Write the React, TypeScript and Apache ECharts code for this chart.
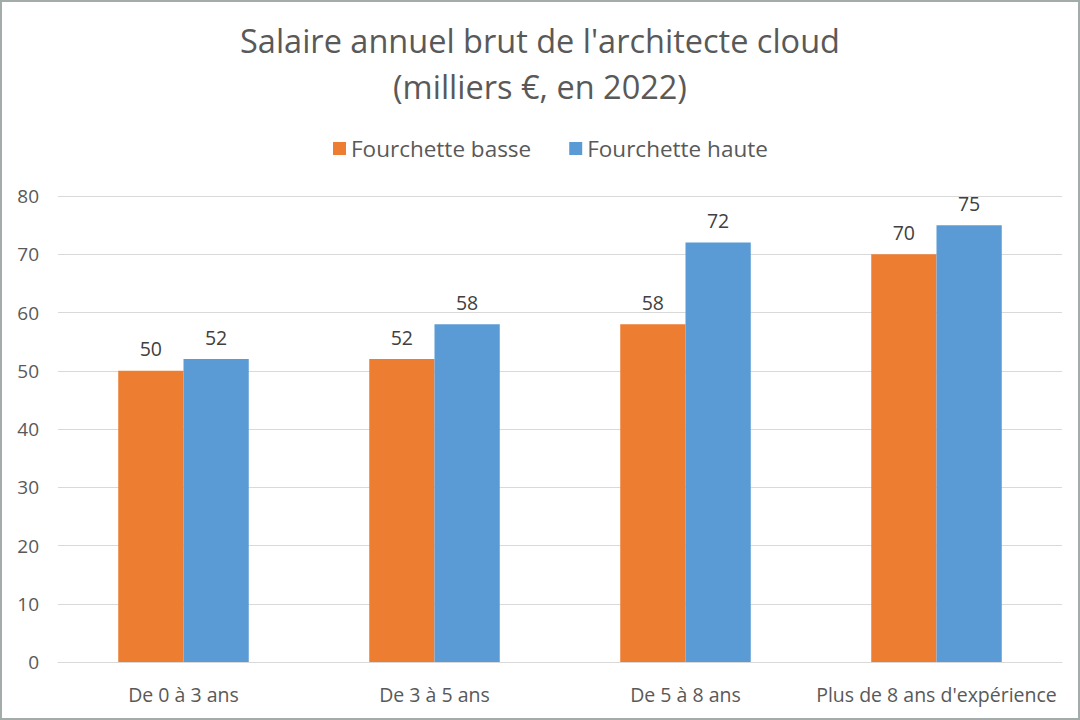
import React, { useEffect, useRef } from 'react';
import * as echarts from 'echarts';

const categories = ['De 0 à 3 ans', 'De 3 à 5 ans', 'De 5 à 8 ans', "Plus de 8 ans d'expérience"];
const basse = [50, 52, 58, 70];
const haute = [52, 58, 72, 75];

const FONT = '"Open Sans", "Noto Sans", sans-serif';

const App: React.FC = () => {
  const chartRef = useRef<HTMLDivElement>(null);

  useEffect(() => {
    if (!chartRef.current) return;
    document.body.style.margin = '0';
    const chart = echarts.init(chartRef.current, null, { renderer: 'svg' });
    const label = {
      show: true,
      position: 'top' as const,
      distance: 12,
      color: '#404040',
      fontSize: 19.5,
      fontFamily: FONT,
    };
    chart.setOption({
      animation: false,
      textStyle: { fontFamily: FONT },
      title: {
        text: "Salaire annuel brut de l'architecte cloud\n(milliers €, en 2022)",
        left: 'center',
        top: 10,
        padding: [5, 0, 5, 9],
        textStyle: { color: '#595959', fontSize: 32.5, fontWeight: 'normal', lineHeight: 46, fontFamily: FONT },
      },
      legend: {
        top: 130,
        left: 326,
        itemWidth: 13,
        itemHeight: 13,
        itemGap: 38,
        icon: 'rect',
        textStyle: { color: '#595959', fontSize: 22.5, fontFamily: FONT },
      },
      grid: { left: 56, right: 16, top: 194, bottom: 56 },
      xAxis: {
        type: 'category',
        data: categories,
        axisLine: { lineStyle: { color: '#d9d9d9' } },
        axisTick: { show: false },
        axisLabel: { color: '#595959', fontSize: 19.5, margin: 22, interval: 0, fontFamily: FONT },
      },
      yAxis: {
        type: 'value',
        min: 0,
        max: 80,
        interval: 10,
        axisLine: { show: false },
        axisTick: { show: false },
        splitLine: { lineStyle: { color: '#d9d9d9' } },
        axisLabel: { color: '#595959', fontSize: 19, margin: 19, fontFamily: FONT },
      },
      series: [
        {
          name: 'Fourchette basse',
          type: 'bar',
          data: basse,
          barGap: '0%',
          barCategoryGap: '48%',
          itemStyle: { color: '#ED7D31' },
          label,
        },
        {
          name: 'Fourchette haute',
          type: 'bar',
          data: haute,
          itemStyle: { color: '#5B9BD5' },
          label,
        },
      ],
    });
    return () => chart.dispose();
  }, []);

  return (
    <div
      style={{
        position: 'absolute',
        left: 0,
        top: 0,
        width: 1080,
        height: 720,
        boxSizing: 'border-box',
        border: '2px solid #a3abab',
        background: '#fff',
      }}
    >
      <div ref={chartRef} style={{ width: 1076, height: 716 }} />
    </div>
  );
};

export default App;
